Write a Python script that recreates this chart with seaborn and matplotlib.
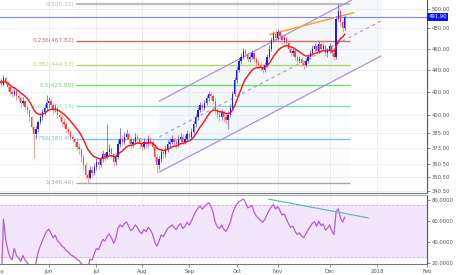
import numpy as np
import pandas as pd
import matplotlib
matplotlib.use('Agg')
import matplotlib.pyplot as plt
import seaborn as sns

sns.set_theme(style='white')
plt.rcParams['font.family'] = ['DejaVu Sans']

# daily bars (May .. mid Dec 2017), opens are the previous close
closes = [430, 426, 432, 428, 424, 420, 418, 421, 416, 414,
          410, 412, 407, 404, 398, 390, 384, 388, 394, 398,
          402, 406, 410, 412, 408, 404, 406, 400, 398, 394,
          392, 388, 386, 382, 380, 378, 374, 372, 366, 360,
          352, 350, 356, 354, 358, 362, 360, 364, 368, 366,
          370, 372, 368, 362, 366, 376, 380, 378, 382, 384,
          380, 376, 378, 382, 380, 376, 374, 378, 376, 380,
          378, 374, 366, 360, 364, 370, 368, 372, 376, 378,
          380, 378, 376, 380, 382, 378, 380, 384, 382, 386,
          392, 398, 404, 408, 406, 410, 414, 418, 416, 412,
          404, 400, 398, 402, 398, 396, 400, 406, 418, 430,
          440, 448, 452, 458, 455, 450, 452, 456, 450, 446,
          444, 442, 440, 444, 452, 460, 468, 474, 470, 476,
          472, 468, 470, 465, 460, 456, 458, 452, 448, 450,
          446, 444, 448, 452, 456, 460, 462, 458, 464, 460,
          462, 456, 458, 462, 456, 452, 490, 498, 486, 480,
          491.9]
highs = [434, 432, 435, 433, 429, 425, 422, 424, 422, 418,
         415, 415, 413, 409, 405, 399, 391, 391, 396, 401,
         405, 409, 417, 415, 414, 410, 409, 407, 402, 400,
         397, 394, 390, 388, 384, 382, 380, 377, 373, 368,
         362, 355, 359, 359, 361, 365, 365, 367, 371, 370,
         392, 376, 374, 369, 369, 379, 389, 383, 386, 388,
         386, 382, 381, 385, 384, 382, 378, 381, 380, 383,
         382, 380, 376, 368, 367, 373, 372, 375, 379, 381,
         383, 382, 380, 383, 385, 384, 383, 387, 386, 389,
         395, 401, 407, 411, 410, 413, 417, 421, 420, 418,
         414, 406, 403, 405, 404, 401, 403, 409, 421, 433,
         443, 451, 456, 461, 460, 457, 455, 459, 458, 452,
         449, 447, 445, 447, 455, 463, 471, 477, 479, 479,
         478, 474, 473, 472, 467, 462, 461, 460, 454, 453,
         452, 449, 451, 455, 459, 463, 465, 464, 467, 466,
         465, 464, 461, 465, 464, 458, 493, 505.31, 500, 489,
         494]
lows = [427, 424, 425, 426, 421, 417, 415, 416, 413, 411,
        407, 408, 404, 401, 395, 387, 365, 381, 386, 392,
        396, 400, 404, 407, 405, 401, 402, 397, 395, 391,
        389, 385, 383, 379, 377, 374, 371, 368, 362, 356,
        349, 346.5, 349, 351, 352, 356, 357, 358, 362, 363,
        364, 367, 365, 359, 360, 364, 374, 375, 376, 380,
        377, 373, 374, 376, 377, 373, 371, 372, 373, 374,
        375, 371, 363, 354, 357, 362, 365, 366, 370, 374,
        376, 375, 373, 374, 378, 376, 376, 378, 379, 380,
        384, 390, 396, 402, 403, 404, 408, 412, 413, 409,
        401, 397, 395, 396, 394, 392, 388, 398, 404, 416,
        428, 438, 445, 450, 452, 447, 447, 450, 447, 443,
        441, 439, 437, 438, 442, 450, 458, 466, 467, 468,
        469, 465, 465, 462, 457, 453, 453, 449, 445, 446,
        443, 441, 442, 446, 450, 454, 458, 455, 456, 457,
        458, 453, 452, 456, 453, 449, 450, 488, 482, 476,
        478]
last_price = 491.90

# month ticks (bar positions)
month_pos = [23, 45, 66, 88, 110, 129, 153, 175, 198]
month_lbl = ['Jun', 'Jul', 'Aug', 'Sep', 'Oct', 'Nov', 'Dec', '2018', 'Feb']

price_ticks = [340.5, 350.5, 360.5, 373, 385, 400, 420, 440, 460, 480, 500]
rsi_ticks = [20, 40, 60, 80]

# fibonacci retracement
fib_ratio = ['0', '0.236', '0.382', '0.5', '0.618', '0.786', '1']
fib_price = [505.31, 467.82, 444.63, 425.89, 407.14, 380.45, 346.46]
fib_color = ['#bdbdbd', '#c97070', '#b3d66a', '#77d477', '#83dcb8', '#7ec3dc', '#a8a8a8']
fib_span = [35.7, 162.3]

# parallel channel and trend lines
chan_x = [74.1, 176.8]
chan_low = [354.4, 452.8]
chan_mid = [381.8, 487.6]
chan_up = [411.7, 526.5]
trend_x = [125.2, 164.1]
trend_y = [473.7, 496.1]
rsi_trend_x = [124.8, 170.9]
rsi_trend_y = [81, 63]

s = pd.Series(closes, dtype=float)
opens = s.shift(1).fillna(s.iloc[0])
bars = np.arange(len(s))
ma = s.ewm(span=13, adjust=True).mean()
d = s.diff()
up = d.clip(lower=0).ewm(alpha=1/14, adjust=True).mean()
dn = (-d.clip(upper=0)).ewm(alpha=1/14, adjust=True).mean()
rsi = 100 - 100 / (1 + up / dn)

fig = plt.figure(figsize=(4.66, 2.75), dpi=100)
ax = fig.add_axes([0, 0.298, 0.916, 0.702])
ax2 = fig.add_axes([0, 0.04, 0.916, 0.251], sharex=ax)

ax.set_yscale('log')
ax.set_ylim(339.1, 509.6)
ax.set_xlim(0.4, 193.5)

grid_c = '#ededed'
for p in price_ticks:
    ax.axhline(p, color=grid_c, lw=0.6, zorder=0)
for m in month_pos:
    ax.axvline(m, color=grid_c, lw=0.6, zorder=0)
    ax2.axvline(m, color=grid_c, lw=0.6, zorder=0)

# fib fill + lines
for i in range(len(fib_price) - 1):
    ax.fill_between(fib_span, fib_price[i], fib_price[i + 1],
                    color=fib_color[i + 1], alpha=0.025, lw=0, zorder=0)
for r, p, c in zip(fib_ratio, fib_price, fib_color):
    ax.hlines(p, fib_span[0], fib_span[1], color=c, lw=1.0 if r != '0' else 1.6, zorder=1)
    ax.text(fib_span[0] - 0.8, p, f'{r}({p:.2f})', color=c, fontsize=4.2,
            ha='right', va='center', zorder=2)

# channel
chan_c = '#b48fd6'
ax.fill_between(chan_x, chan_low, chan_up, color='#e3ebf8', alpha=0.3, lw=0, zorder=0)
ax.plot(chan_x, chan_low, color=chan_c, lw=0.9, zorder=2)
ax.plot(chan_x, chan_up, color=chan_c, lw=0.9, zorder=2)
ax.plot(chan_x, chan_mid, color=chan_c, lw=0.8, ls=(0, (3, 3)), zorder=2)
ax.plot(trend_x, trend_y, color='#f5a631', lw=1.1, zorder=2)

# candles
is_up = s.values >= opens.values
cols = np.where(is_up, '#1a1aff', '#ff4040')
wick_cols = np.where(is_up, '#4d4dff', '#ff7a7a')
ax.vlines(bars, lows, highs, colors=wick_cols, lw=0.5, zorder=3)
bot = np.minimum(opens.values, s.values)
hgt = np.maximum(np.abs(s.values - opens.values), 0.4)
ax.bar(bars, hgt, bottom=bot, width=0.6, color=cols, lw=0, zorder=3)

sns.lineplot(x=bars, y=ma.values, ax=ax, color='#ff1010', lw=1.0, zorder=4)

# last price
ax.axhline(last_price, color='#8080ff', lw=0.8, zorder=1)
ax.text(1.004, last_price, f'{last_price:.2f}', transform=ax.get_yaxis_transform(),
        fontsize=3.8, color='white', ha='left', va='center',
        bbox=dict(boxstyle='square,pad=0.25', fc='#0a14ff', ec='none'), clip_on=False, zorder=6)

ax.yaxis.tick_right()
ax.set_yticks(price_ticks)
ax.set_yticklabels([f'{p:.2f}' for p in price_ticks])
ax.yaxis.set_minor_locator(matplotlib.ticker.NullLocator())
ax.tick_params(axis='y', labelsize=3.8, labelcolor='#555555', length=2, width=0.5,
               color='#666666', pad=1.5, right=True)
ax.tick_params(axis='x', bottom=False, labelbottom=False)

# RSI panel
ax2.set_ylim(18.7, 85)
ax2.axhspan(25, 75, color='#f3e5fb', zorder=0)
for lvl in (25, 75):
    ax2.axhline(lvl, color='#c7b2d4', lw=0.6, ls=(0, (3, 2)), zorder=1)
sns.lineplot(x=bars, y=rsi.values, ax=ax2, color='#b45fd2', lw=0.9, zorder=3)
ax2.plot(rsi_trend_x, rsi_trend_y, color='#5fbfb8', lw=0.9, zorder=4)
ax2.yaxis.tick_right()
ax2.set_yticks(rsi_ticks)
ax2.set_yticklabels([f'{v:.4f}' for v in rsi_ticks])
ax2.tick_params(axis='y', labelsize=3.8, labelcolor='#555555', length=2, width=0.5,
                color='#666666', pad=1.5, right=True)
ax2.set_xticks(month_pos)
ax2.set_xticklabels(month_lbl)
ax2.tick_params(axis='x', labelsize=3.8, labelcolor='#555555', length=2, width=0.5,
                color='#666666', pad=1.5, bottom=True)
ax2.annotate('May', xy=(0, 0), xycoords=('data', 'axes fraction'), xytext=(0, -3.5),
             textcoords='offset points', fontsize=3.8, color='#555555',
             ha='center', va='top', annotation_clip=False)

for a in (ax, ax2):
    for side in ('left', 'top'):
        a.spines[side].set_visible(False)
    a.spines['right'].set_color('#555555')
    a.spines['right'].set_linewidth(0.8)
    a.spines['bottom'].set_color('#777777')
    a.spines['bottom'].set_linewidth(0.8)
    a.set_xlabel('')
    a.set_ylabel('')
ax2.spines['top'].set_visible(True)
ax2.spines['top'].set_color('#999999')
ax2.spines['top'].set_linewidth(0.6)

fig.savefig('out.png', dpi=100)
